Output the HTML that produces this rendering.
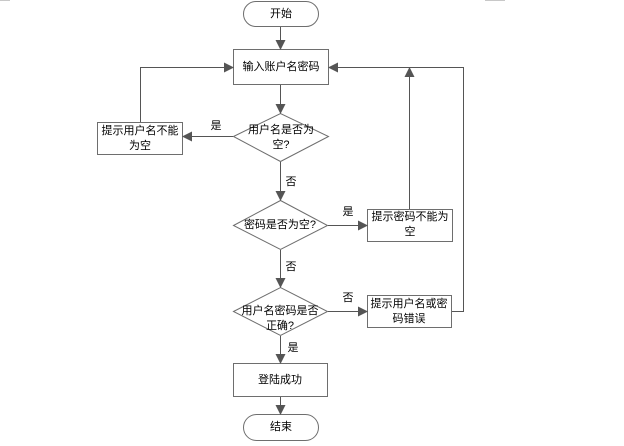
<!DOCTYPE html>
<html><head><meta charset="utf-8"><style>
html,body{margin:0;padding:0;background:#fff;width:624px;height:446px;overflow:hidden}
svg text{font-family:"Liberation Sans","Noto Sans CJK SC","WenQuanYi Zen Hei",sans-serif;font-size:11px;fill:#000;text-anchor:middle;dominant-baseline:central}
</style></head><body>
<svg width="624" height="446" viewBox="0 0 624 446" xmlns="http://www.w3.org/2000/svg">
<defs><marker id="a" markerWidth="10" markerHeight="10" refX="9" refY="5" orient="auto" markerUnits="userSpaceOnUse"><path d="M0,0 L10,5 L0,10 Z" fill="#555"/></marker></defs>
<g stroke="#c8c8c8" stroke-width="1"><line x1="0" y1="0.5" x2="10" y2="0.5"/><line x1="485" y1="0.5" x2="505" y2="0.5"/></g>
<g fill="#fff" stroke="#6e6e6e" stroke-width="1">
<rect x="243.5" y="1.5" width="75" height="25" rx="12.5"/>
<rect x="233.5" y="49.5" width="95" height="35"/>
<polygon points="233.5,136.5 280.5,113.5 328.5,136.5 280.5,161.5"/>
<rect x="97.5" y="122.5" width="85" height="32"/>
<polygon points="233.5,225.5 280.5,200.5 327.5,225.5 280.5,249.5"/>
<rect x="367.5" y="209.5" width="85" height="32"/>
<polygon points="233.5,311.5 280.5,287.5 327.5,311.5 280.5,335.5"/>
<rect x="367.5" y="295.5" width="84" height="32"/>
<rect x="233.5" y="363.5" width="94" height="33"/>
<rect x="243.5" y="414.5" width="75" height="26" rx="13"/>
</g>
<g stroke="#555" stroke-width="1" fill="none" marker-end="url(#a)">
<line x1="280.5" y1="27" x2="280.5" y2="49"/>
<line x1="280.5" y1="85" x2="280.5" y2="113"/>
<line x1="233" y1="136.5" x2="183" y2="136.5"/>
<polyline points="140.5,122 140.5,67.5 233,67.5"/>
<line x1="280.5" y1="162" x2="280.5" y2="200"/>
<line x1="328" y1="225.5" x2="367" y2="225.5"/>
<polyline points="409.5,209 409.5,68"/>
<line x1="280.5" y1="250" x2="280.5" y2="287"/>
<line x1="328" y1="311.5" x2="367" y2="311.5"/>
<polyline points="452,311.5 463.5,311.5 463.5,67.5 329,67.5"/>
<line x1="280.5" y1="336" x2="280.5" y2="363"/>
<line x1="280.5" y1="397" x2="280.5" y2="414"/>
</g>
<text x="281" y="14">开始</text>
<text x="281" y="67">输入账户名密码</text>
<text x="281" y="130">用户名是否为</text>
<text x="281" y="145">空?</text>
<text x="140" y="131">提示用户名不能</text>
<text x="140" y="146">为空</text>
<text x="216" y="126">是</text>
<text x="291" y="182">否</text>
<text x="280" y="225">密码是否为空?</text>
<text x="348" y="212">是</text>
<text x="410" y="217">提示密码不能为</text>
<text x="410" y="232">空</text>
<text x="291" y="267">否</text>
<text x="280" y="311">用户名密码是否</text>
<text x="280" y="326">正确?</text>
<text x="348" y="298">否</text>
<text x="409" y="304">提示用户名或密</text>
<text x="409" y="319">码错误</text>
<text x="293" y="348">是</text>
<text x="280" y="380">登陆成功</text>
<text x="281" y="427">结束</text>
</svg>
</body></html>
